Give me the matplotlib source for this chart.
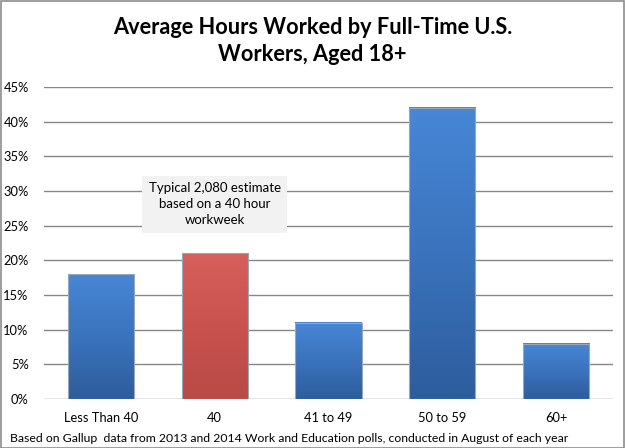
import numpy as np
import matplotlib
matplotlib.use("Agg")
import matplotlib.pyplot as plt
from matplotlib.colors import LinearSegmentedColormap

# data
categories = ['Less Than 40', '40', '41 to 49', '50 to 59', '60+']
shares = [0.18, 0.21, 0.11, 0.42, 0.08]
highlight = '40'

title = 'Average Hours Worked by Full-Time U.S.\nWorkers, Aged 18+'
note = 'Typical 2,080 estimate\nbased on a 40 hour\nworkweek'
source = 'Based on Gallup  data from 2013 and 2014 Work and Education polls, conducted in August of each year'

plt.rcParams['font.family'] = ['Lato', 'DejaVu Sans']

fig = plt.figure(figsize=(6.25, 4.48), dpi=100)
ax = fig.add_axes([44 / 625, 1 - 399 / 448, 569 / 625, 312 / 448])

x = np.arange(len(categories))
bars = ax.bar(x, shares, width=0.58, color='none', edgecolor='none', zorder=3)

# gradient fill, light at top, dark at bottom, like the excel bevel
blue = LinearSegmentedColormap.from_list('b', ['#2d5d9c', '#3b73bd', '#4787d6'])
red = LinearSegmentedColormap.from_list('r', ['#b94a46', '#c9534f', '#d8605c'])
grad = np.linspace(0, 1, 256).reshape(-1, 1)
for b, cat in zip(bars, categories):
    cmap = red if cat == highlight else blue
    x0, w, h = b.get_x(), b.get_width(), b.get_height()
    ax.imshow(grad, cmap=cmap, origin='lower', aspect='auto',
              extent=[x0, x0 + w, 0, h], zorder=3)
    ax.add_patch(plt.Rectangle((x0, 0), w, h, fill=False,
                               edgecolor='#9aa7b8', lw=0.8, zorder=4))

ax.set_xlim(-0.5, len(categories) - 0.5)
ax.set_ylim(0, 0.45)
ax.set_yticks(np.arange(0, 0.46, 0.05))
ax.set_yticklabels([f'{int(round(v * 100))}%' for v in np.arange(0, 0.46, 0.05)])
ax.set_xticks(x)
ax.set_xticklabels(categories)
ax.tick_params(axis='both', length=0, labelsize=9.3, colors='black')
ax.tick_params(axis='x', pad=9)
ax.tick_params(axis='y', pad=11)
ax.grid(axis='y', color='#878787', lw=1.0, zorder=0)
for s in ax.spines.values():
    s.set_visible(False)

# annotation box above the 40 hour bar
ax.text(1.0, 0.281, note, ha='center', va='center', fontsize=9.5,
        linespacing=1.38, zorder=5,
        bbox=dict(boxstyle='square,pad=0.5', fc='#f2f2f2', ec='none'))

fig.text(0.5, 1 - 41 / 448, title, ha='center', va='center',
         fontsize=15.7, fontweight='bold', linespacing=1.4)
fig.text(10 / 625, 1 - 438 / 448, source, ha='left', va='center', fontsize=8.8)

# outer border of the chart area
fig.patches.append(plt.Rectangle((0.001, 0.001), 0.997, 0.996, transform=fig.transFigure,
                                 fill=False, edgecolor='#8c8c8c', lw=1.2))

fig.savefig('out.png', dpi=100)
